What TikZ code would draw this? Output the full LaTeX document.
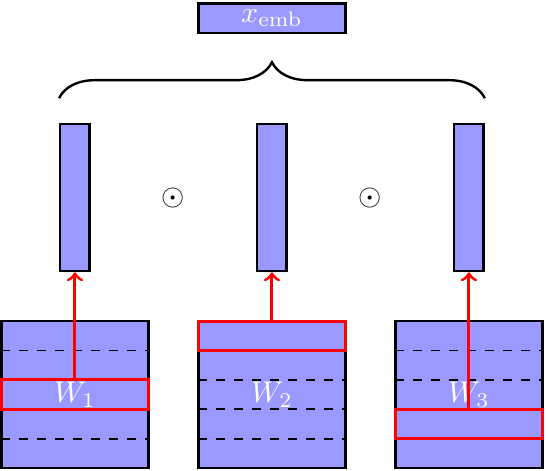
\documentclass[tikz,border=0pt]{standalone}
\usepackage{amsmath}
\usetikzlibrary{positioning}
\usetikzlibrary{decorations.pathreplacing}
\begin{document}
\begin{tikzpicture}[x=0.345cm, y=0.345cm,
    weight/.style={draw, thick, rectangle, fill=blue!40, minimum width=1.725cm, minimum height=1.725cm, inner sep=0pt},
    vec/.style={draw, thick, rectangle, fill=blue!40, minimum width=0.345cm, minimum height=1.725cm, inner sep=0pt},
    rowsel/.style={draw=red, line width=1pt, rectangle, minimum width=1.725cm, minimum height=0.345cm, inner sep=0pt}]
    \useasboundingbox (0,0) rectangle (18.64,16.02);

    % weight matrices
    \node[weight] (m1) at (2.55,2.6) {};
    \node[weight] (m2) at (9.25,2.6) {};
    \node[weight] (m3) at (15.95,2.6) {};
    \foreach \x in {0.05,6.75,13.45}
        \foreach \y in {1.1,2.1,3.1,4.1}
            \draw[dashed, semithick] (\x,\y) -- ++(5,0);
    \node[text=white] (w1) at (m1) {$W_1$};
    \node[text=white] (w2) at (m2) {$W_2$};
    \node[text=white] (w3) at (m3) {$W_3$};

    % selected rows
    \node[rowsel] (r1) at (2.55,2.6) {};
    \node[rowsel] (r2) at (9.25,4.6) {};
    \node[rowsel] (r3) at (15.95,1.6) {};

    % embedding vectors
    \node[vec] (v1) at (2.55,9.3) {};
    \node[vec] (v2) at (9.25,9.3) {};
    \node[vec] (v3) at (15.95,9.3) {};
    \draw[->, red, line width=1pt] (r1.north) -- (v1.south);
    \draw[->, red, line width=1pt] (r2.north) -- (v2.south);
    \draw[->, red, line width=1pt] (r3.north) -- (v3.south);

    \node (o1) at (5.9,9.3) {$\odot$};
    \node (o2) at (12.6,9.3) {$\odot$};

    \draw[thick, decorate, decoration={brace, amplitude=12pt}]
        ([yshift=0.29cm]v1.north west) -- ([yshift=0.29cm]v3.north east);
    \node[vec, minimum width=1.725cm, minimum height=0.345cm, text=white] (xe) at (9.25,15.4) {$x_{\text{emb}}$};
\end{tikzpicture}
\end{document}
